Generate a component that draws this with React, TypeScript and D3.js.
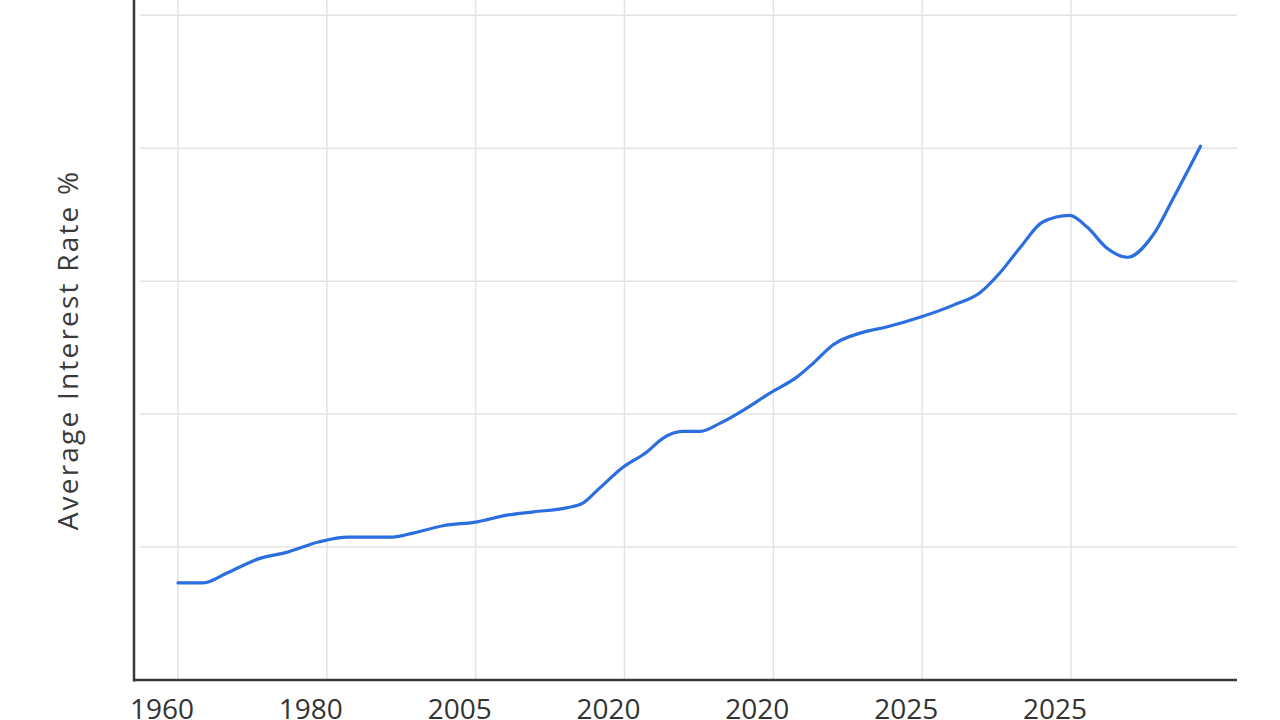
import React from "react";
import * as d3 from "d3";

const tickLabels = ["1960", "1980", "2005", "2020", "2020", "2025", "2025"];
const yGridValues = [2, 4, 6, 8, 10];

// position along the category axis (0 = first tick) and rate value
const xPos = [0, 0.17, 0.33, 0.55, 0.73, 0.95, 1.14, 1.44, 1.58, 1.78, 2.01, 2.21, 2.39, 2.61, 2.72, 2.82, 2.99, 3.15, 3.26, 3.39, 3.51, 3.64, 3.8, 3.98, 4.16, 4.27, 4.4, 4.6, 4.76, 4.99, 5.21, 5.39, 5.52, 5.66, 5.81, 5.99, 6.11, 6.24, 6.38, 6.55, 6.69, 6.87];
const rates = [1.46, 1.46, 1.61, 1.83, 1.92, 2.08, 2.15, 2.15, 2.21, 2.32, 2.38, 2.48, 2.53, 2.59, 2.66, 2.86, 3.2, 3.43, 3.64, 3.74, 3.74, 3.86, 4.06, 4.32, 4.56, 4.77, 5.04, 5.23, 5.31, 5.46, 5.64, 5.83, 6.12, 6.51, 6.89, 6.99, 6.81, 6.5, 6.36, 6.69, 7.26, 8.03];

const W = 1280;
const H = 720;
const left = 134;
const right = 1237;
const bottom = 680;

export default function App() {
  const x = d3.scaleLinear().domain([0, 6]).range([178, 1071]);
  const y = d3.scaleLinear().domain([0, 10.23]).range([bottom, 0]);
  const pts: [number, number][] = xPos.map((p, i) => [p, rates[i]]);
  const line = d3
    .line<[number, number]>()
    .x((d) => x(d[0]))
    .y((d) => y(d[1]))
    .curve(d3.curveMonotoneX);

  return (
    <svg
      width={W}
      height={H}
      style={{ position: "absolute", left: 0, top: 0, background: "#fff" }}
      fontFamily="'Open Sans', sans-serif"
    >
      <rect x={0} y={0} width={W} height={H} fill="#fff" />
      {yGridValues.map((v) => (
        <line key={"h" + v} x1={left + 6} x2={right} y1={y(v)} y2={y(v)} stroke="#e3e3e3" strokeWidth={1.5} />
      ))}
      {tickLabels.map((_, i) => (
        <line key={"v" + i} x1={x(i)} x2={x(i)} y1={0} y2={bottom} stroke="#e3e3e3" strokeWidth={1.5} />
      ))}
      <path d={line(pts) || ""} fill="none" stroke="#2b6ee0" strokeWidth={3.2} strokeLinecap="round" strokeLinejoin="round" />
      <line x1={left} x2={left} y1={0} y2={bottom + 1.5} stroke="#3a3a3a" strokeWidth={2.5} />
      <line x1={left - 1} x2={right} y1={bottom} y2={bottom} stroke="#3a3a3a" strokeWidth={2.5} />
      {tickLabels.map((t, i) => (
        <text key={"t" + i} x={x(i) - 16} y={719} textAnchor="middle" fontSize={28} fill="#333">
          {t}
        </text>
      ))}
      <text
        transform={`translate(78, 350) rotate(-90)`}
        textAnchor="middle"
        fontSize={28}
        letterSpacing={2.2}
        fill="#3a3a3a"
      >
        Average Interest Rate %
      </text>
    </svg>
  );
}
